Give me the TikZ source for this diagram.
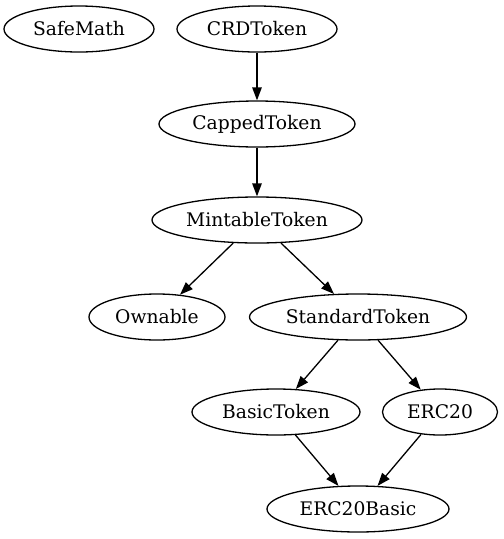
\documentclass[tikz,border=0pt]{standalone}
\usepackage{fontspec}
\setmainfont{DejaVu Serif}
\usetikzlibrary{shapes.geometric,arrows.meta}
\tikzset{
  cls/.style={draw, ellipse, line width=1.3pt, inner sep=0pt, minimum height=46pt, font=\fontsize{18.7}{22}\selectfont},
  dep/.style={line width=1.3pt, -{Triangle[length=13pt,width=9.5pt]}}
}
\begin{document}
\begin{tikzpicture}[x=1pt,y=-1pt]
\useasboundingbox (0,0) rectangle (504,539);
\node[cls, minimum width=150pt] (safemath) at (79,29) {SafeMath};
\node[cls, minimum width=160pt] (crd) at (257,29) {CRDToken};
\node[cls, minimum width=196pt] (capped) at (257,124) {CappedToken};
\node[cls, minimum width=210pt] (mintable) at (257,220) {MintableToken};
\node[cls, minimum width=136pt] (ownable) at (157,317) {Ownable};
\node[cls, minimum width=217pt] (standard) at (358,317) {StandardToken};
\node[cls, minimum width=168pt] (basic) at (276,412) {BasicToken};
\node[cls, minimum width=115pt] (erc20) at (440,412) {ERC20};
\node[cls, minimum width=182pt] (erc20basic) at (358,509) {ERC20Basic};
\draw[dep] (crd) -- (capped);
\draw[dep] (capped) -- (mintable);
\draw[dep] (mintable) -- (ownable);
\draw[dep] (mintable) -- (standard);
\draw[dep] (standard) -- (basic);
\draw[dep] (standard) -- (erc20);
\draw[dep] (basic) -- (erc20basic);
\draw[dep] (erc20) -- (erc20basic);
\end{tikzpicture}
\end{document}
